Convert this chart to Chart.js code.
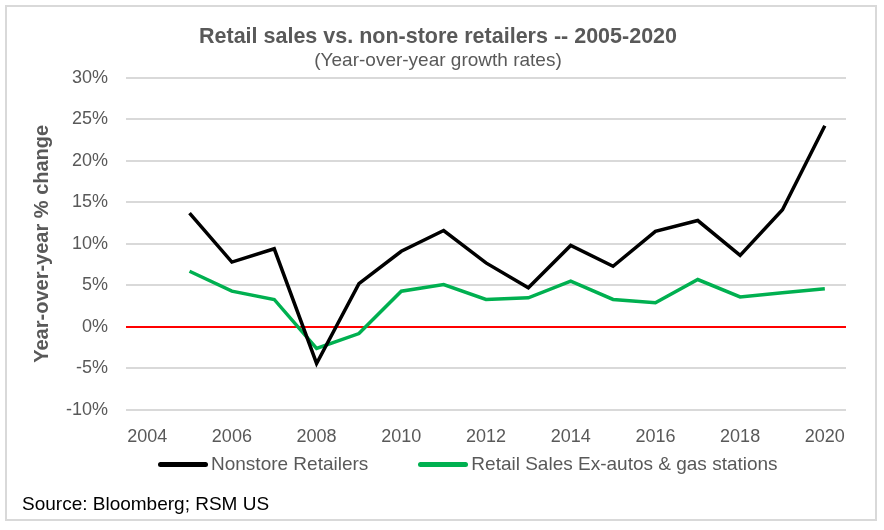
<!DOCTYPE html>
<html>
<head>
<meta charset="utf-8">
<script src="https://cdn.jsdelivr.net/npm/chart.js@4.4.1/dist/chart.umd.min.js"></script>
<style>
  html, body { margin: 0; padding: 0; background: #fff; }
  #wrap { position: relative; width: 884px; height: 530px; }
  #frame { position: absolute; left: 5px; top: 5px; width: 868px; height: 512px; border: 2px solid #d9d9d9; }
  #chart { position: absolute; left: 0; top: 0; }
  #legend { position: absolute; left: 158px; top: 452px; height: 24px; display: flex; align-items: center;
            font: 19px "Liberation Sans", Arial, sans-serif; color: #595959; white-space: nowrap; }
  .item { display: flex; align-items: center; margin-right: 50px; }
  .swatch { width: 50px; height: 5px; border-radius: 3px; margin-right: 3px; }
  #source { position: absolute; left: 22px; top: 493px; font: 19px/22px "Liberation Sans", Arial, sans-serif; color: #000; }
</style>
</head>
<body>
<div id="wrap">
  <div id="frame"></div>
  <canvas id="chart" width="884" height="530"></canvas>
  <div id="legend"></div>
  <div id="source">Source: Bloomberg; RSM US</div>
</div>
<script>
/* retail sales vs nonstore retailers, yoy growth */

const years = [2005, 2006, 2007, 2008, 2009, 2010, 2011, 2012, 2013, 2014, 2015, 2016, 2017, 2018, 2019, 2020];
const nonstore = [13.7, 7.8, 9.4, -4.4, 5.2, 9.1, 11.6, 7.7, 4.7, 9.8, 7.3, 11.5, 12.8, 8.6, 14.1, 24.2];
const retailExAutos = [6.7, 4.3, 3.3, -2.6, -0.8, 4.3, 5.1, 3.3, 3.5, 5.5, 3.3, 2.9, 5.7, 3.6, 4.1, 4.6];
const xTicks = [2004, 2006, 2008, 2010, 2012, 2014, 2016, 2018, 2020];
const yTicks = [-10, -5, 0, 5, 10, 15, 20, 25, 30];

const FONT = '"Liberation Sans", Arial, sans-serif';
const GREY = '#595959';

document.addEventListener('DOMContentLoaded', () => {
  const ctx = document.getElementById('chart');
  const legendEl = document.getElementById('legend');

  const toPoints = vals => vals.map((v, i) => ({ x: years[i], y: v }));

  const chart = new Chart(ctx, {
    type: 'line',
    data: {
      datasets: [
        {
          label: 'Nonstore Retailers',
          data: toPoints(nonstore),
          borderColor: '#000000',
          backgroundColor: '#000000',
          borderWidth: 3.5,
          pointRadius: 0,
          tension: 0
        },
        {
          label: 'Retail Sales Ex-autos & gas stations',
          data: toPoints(retailExAutos),
          borderColor: '#00b050',
          backgroundColor: '#00b050',
          borderWidth: 3.5,
          pointRadius: 0,
          tension: 0
        }
      ]
    },
    options: {
      responsive: false,
      animation: false,
      events: [],
      layout: { padding: { left: 30, right: 38, top: 0, bottom: 80 } },
      plugins: {
        title: {
          display: true,
          text: 'Retail sales vs. non-store retailers -- 2005-2020',
          color: GREY,
          font: { family: FONT, size: 21.5, weight: 'bold' },
          padding: { top: 24, bottom: 0 }
        },
        subtitle: {
          display: true,
          text: '(Year-over-year growth rates)',
          color: GREY,
          font: { family: FONT, size: 19 },
          padding: { top: 0, bottom: 5 }
        },
        legend: { display: false },
        tooltip: { enabled: false }
      },
      scales: {
        x: {
          type: 'linear',
          min: 2003.5,
          max: 2020.5,
          afterBuildTicks: axis => { axis.ticks = xTicks.map(v => ({ value: v })); },
          afterFit: axis => { axis.height = 40; },
          grid: { display: false },
          border: { display: false },
          ticks: {
            color: GREY,
            font: { family: FONT, size: 18 },
            padding: 8,
            maxRotation: 0,
            callback: v => String(v)
          }
        },
        y: {
          min: -10,
          max: 30,
          afterBuildTicks: axis => { axis.ticks = yTicks.map(v => ({ value: v })); },
          afterFit: axis => { axis.width = 96; },
          border: { display: false },
          grid: {
            color: c => c.tick && c.tick.value === 0 ? '#ff0000' : '#d9d9d9',
            lineWidth: 2,
            drawTicks: false
          },
          ticks: {
            color: GREY,
            font: { family: FONT, size: 18 },
            padding: 18,
            callback: v => v + '%'
          },
          title: {
            display: true,
            text: 'Year-over-year % change',
            color: GREY,
            font: { family: FONT, size: 20, weight: 'bold' },
            padding: 0
          }
        }
      }
    }
  });

  // legend as html, built from the datasets
  legendEl.innerHTML = chart.data.datasets.map(ds => `
    <div class="item">
      <span class="swatch" style="background:${ds.borderColor}"></span>
      <span>${ds.label.replace('&', '&amp;')}</span>
    </div>
  `).join('');
});
</script>
</body>
</html>
